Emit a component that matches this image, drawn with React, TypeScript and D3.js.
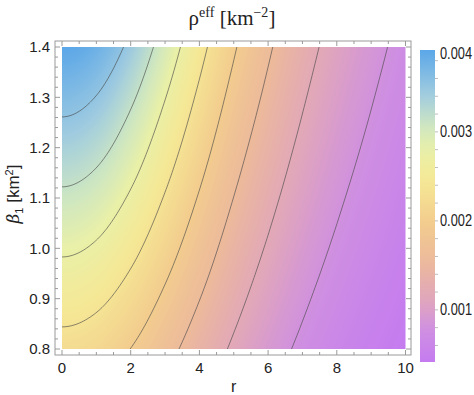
import React, { useMemo } from "react";
import * as d3 from "d3";

// density values, rho_eff [km^-2] on a coarse (r, beta1) grid
const rValues = [0, 1, 2, 3, 4, 5, 6, 7, 8, 9, 10];
const betaValues = [0.8, 1.0, 1.2, 1.4];
const rhoBeta08 = [0.00224, 0.002167, 0.00197, 0.001701, 0.001415, 0.00115, 0.000932, 0.000755, 0.000616, 0.000506, 0.000414];
const rhoBeta10 = [0.0028, 0.002708, 0.002462, 0.002126, 0.001769, 0.001437, 0.001165, 0.000944, 0.00077, 0.000633, 0.000518];
const rhoBeta12 = [0.00336, 0.00325, 0.002955, 0.002551, 0.002123, 0.001725, 0.001398, 0.001132, 0.000924, 0.000759, 0.000622];
const rhoBeta14 = [0.00392, 0.003792, 0.003447, 0.002976, 0.002476, 0.002012, 0.001631, 0.001321, 0.001078, 0.000886, 0.000725];
const rhoRows = [rhoBeta08, rhoBeta10, rhoBeta12, rhoBeta14];

const rhoMin = 0.000414;
const rhoMax = 0.00392;
const contourLevels = [0.003531, 0.003142, 0.002752, 0.002363, 0.001974, 0.001585, 0.001196, 0.000807];

const xTicks = [0, 2, 4, 6, 8, 10];
const yTicks = [0.8, 0.9, 1.0, 1.1, 1.2, 1.3, 1.4];
const legendTicks = [0.001, 0.002, 0.003, 0.004];

// pastel gradient, low -> high
const paletteT = [0, 0.1, 0.2, 0.32, 0.45, 0.58, 0.68, 0.76, 0.86, 1];
const paletteColors = ["#c47bf0", "#cf8fe2", "#e0a6bc", "#ecb99c", "#f3cd8e", "#f5e895", "#e9f0a8", "#cde6c2", "#9fcbe0", "#5ba7e8"];

const W = 474, H = 395;
const plot = { left: 62, right: 405.5, top: 47, bottom: 349 };
const frame = { left: 55, right: 411, top: 41, bottom: 355 };
const bar = { x: 420, y: 50, w: 15, h: 312 };

const xScale = d3.scaleLinear().domain([0, 10]).range([plot.left, plot.right]);
const yScale = d3.scaleLinear().domain([0.8, 1.4]).range([plot.bottom, plot.top]);
const tScale = d3.scaleLinear().domain([rhoMin, rhoMax]).range([0, 1]).clamp(true);
const palette = d3.scaleLinear<string>().domain(paletteT).range(paletteColors).interpolate(d3.interpolateRgb);
const legendScale = d3.scaleLinear().domain([rhoMin, rhoMax]).range([bar.y + bar.h, bar.y]);

function rowAt(row: number[], r: number) {
  const n = row.length;
  const i = Math.max(0, Math.min(n - 2, Math.floor(r)));
  const t = r - i;
  const p = (k: number) => (k < 0 ? row[-k] : k > n - 1 ? 2 * row[n - 1] - row[n - 2] : row[k]);
  const p0 = p(i - 1), p1 = p(i), p2 = p(i + 1), p3 = p(i + 2);
  return 0.5 * (2 * p1 + (-p0 + p2) * t + (2 * p0 - 5 * p1 + 4 * p2 - p3) * t * t + (-p0 + 3 * p1 - 3 * p2 + p3) * t * t * t);
}

function rhoAt(r: number, beta: number) {
  const n = betaValues.length;
  let j = 0;
  while (j < n - 2 && beta > betaValues[j + 1]) j++;
  const s = (beta - betaValues[j]) / (betaValues[j + 1] - betaValues[j]);
  const a = rowAt(rhoRows[j], r), b = rowAt(rhoRows[j + 1], r);
  return a + (b - a) * s;
}

function App() {
  const lut = useMemo(() => d3.range(256).map((k) => d3.rgb(palette(k / 255))), []);

  const imageUrl = useMemo(() => {
    const w = Math.round(plot.right - plot.left), h = Math.round(plot.bottom - plot.top);
    const canvas = document.createElement("canvas");
    canvas.width = w; canvas.height = h;
    const ctx = canvas.getContext("2d")!;
    const img = ctx.createImageData(w, h);
    for (let py = 0; py < h; py++) {
      const beta = yScale.invert(plot.top + py + 0.5);
      for (let px = 0; px < w; px++) {
        const r = xScale.invert(plot.left + px + 0.5);
        const c = lut[Math.round(tScale(rhoAt(r, beta)) * 255)];
        const o = (py * w + px) * 4;
        img.data[o] = c.r; img.data[o + 1] = c.g; img.data[o + 2] = c.b; img.data[o + 3] = 255;
      }
    }
    ctx.putImageData(img, 0, 0);
    return canvas.toDataURL();
  }, [lut]);

  const contourPaths = useMemo(() => {
    const nx = Math.round(frame.right - frame.left) + 1, ny = Math.round(frame.bottom - frame.top) + 1;
    const vals = new Array(nx * ny);
    for (let j = 0; j < ny; j++) {
      const beta = yScale.invert(frame.top + j);
      for (let i = 0; i < nx; i++) vals[j * nx + i] = rhoAt(xScale.invert(frame.left + i), beta);
    }
    const polys = d3.contours().size([nx, ny]).thresholds(contourLevels)(vals);
    const path = d3.geoPath(d3.geoTransform({
      point(x, y) { this.stream.point(frame.left + x - 0.5, frame.top + y - 0.5); },
    }));
    return polys.map((p) => path(p as any) || "");
  }, []);

  const gradStops = d3.range(0, 1.0001, 0.05);
  const xMinor = d3.range(0, 10.001, 0.5);
  const yMinor = d3.range(0.8, 1.4001, 0.02);
  const legendMinor = d3.range(0.0006, rhoMax, 0.0002);
  const frameColor = "#9a9a9a";
  const tickFont = "'Liberation Sans', Arial, sans-serif";

  return (
    <svg width={W} height={H} style={{ position: "absolute", left: 0, top: 0 }}>
      <defs>
        <clipPath id="plotClip">
          <rect x={plot.left} y={plot.top} width={plot.right - plot.left} height={plot.bottom - plot.top} />
        </clipPath>
        <linearGradient id="barGrad" x1="0" y1="1" x2="0" y2="0">
          {gradStops.map((t) => (
            <stop key={t} offset={t} stopColor={palette(t)} />
          ))}
        </linearGradient>
      </defs>
      <rect width={W} height={H} fill="#fff" />

      <image href={imageUrl} x={plot.left} y={plot.top} width={plot.right - plot.left} height={plot.bottom - plot.top} preserveAspectRatio="none" />
      <g clipPath="url(#plotClip)" fill="none" stroke="#4a4a4a" strokeOpacity={0.7} strokeWidth={0.9}>
        {contourPaths.map((d, k) => <path key={k} d={d} />)}
      </g>

      {/* frame and ticks */}
      <rect x={frame.left} y={frame.top} width={frame.right - frame.left} height={frame.bottom - frame.top} fill="none" stroke={frameColor} strokeWidth={1} />
      <g stroke={frameColor} strokeWidth={1}>
        {xMinor.map((v) => {
          const len = xTicks.includes(Math.round(v * 10) / 10) ? 5 : 3;
          return (
            <g key={"x" + v}>
              <line x1={xScale(v)} x2={xScale(v)} y1={frame.bottom} y2={frame.bottom - len} />
              <line x1={xScale(v)} x2={xScale(v)} y1={frame.top} y2={frame.top + len} />
            </g>
          );
        })}
        {yMinor.map((v) => {
          const major = Math.abs(v * 10 - Math.round(v * 10)) < 1e-6;
          const len = major ? 5 : 3;
          return (
            <g key={"y" + v}>
              <line x1={frame.left} x2={frame.left + len} y1={yScale(v)} y2={yScale(v)} />
              <line x1={frame.right} x2={frame.right - len} y1={yScale(v)} y2={yScale(v)} />
            </g>
          );
        })}
      </g>

      <g fontFamily={tickFont} fontSize={15} fill="#222">
        {xTicks.map((v) => (
          <text key={v} x={xScale(v)} y={373} textAnchor="middle">{v}</text>
        ))}
        {yTicks.map((v) => (
          <text key={v} x={50} y={yScale(v)} dy="0.35em" textAnchor="end">{v.toFixed(1)}</text>
        ))}
        <text x={xScale(5)} y={392} textAnchor="middle" fontSize={16}>r</text>
        <text transform={`translate(19,${(plot.top + plot.bottom) / 2 - 4}) rotate(-90)`} textAnchor="middle" fontSize={17}>
          <tspan fontStyle="italic" fontFamily="'DejaVu Serif', serif">β</tspan>
          <tspan fontSize={11} dy={4}>1</tspan>
          <tspan dy={-4}> [km</tspan>
          <tspan fontSize={11} dy={-6}>2</tspan>
          <tspan dy={6}>]</tspan>
        </text>
      </g>

      {/* title */}
      <text x={232} y={25} textAnchor="middle" fontFamily="'Liberation Serif', 'Times New Roman', serif" fontSize={21} fill="#222">
        <tspan>ρ</tspan>
        <tspan fontSize={14} dy={-8}>eff</tspan>
        <tspan dy={8}> [km</tspan>
        <tspan fontSize={14} dy={-8}>−2</tspan>
        <tspan dy={8}>]</tspan>
      </text>

      {/* colour bar legend */}
      <rect x={bar.x} y={bar.y} width={bar.w} height={bar.h} fill="url(#barGrad)" />
      <g stroke="#bdbdbd" strokeWidth={1}>
        {legendMinor.map((v) => (
          <line key={v} x1={bar.x + bar.w} x2={bar.x + bar.w + 3} y1={legendScale(v)} y2={legendScale(v)} />
        ))}
      </g>
      <g fontFamily="'Liberation Sans', Arial, sans-serif" fontSize={16} fill="#222">
        {legendTicks.map((v) => (
          <text key={v} transform={`translate(440,${Math.max(legendScale(v), bar.y + 3)}) scale(0.8,1)`} dy="0.35em">{v.toFixed(3)}</text>
        ))}
      </g>
    </svg>
  );
}

export default App;
